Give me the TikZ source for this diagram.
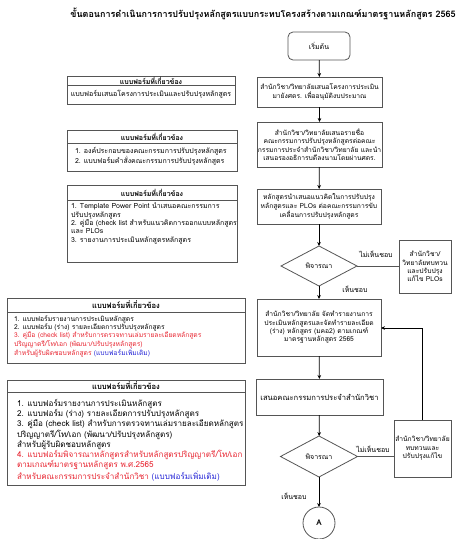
\documentclass[tikz,border=0pt]{standalone}
\usepackage{fontspec}
\setmainfont[Script=Thai]{Loma}
\usetikzlibrary{shapes.geometric,arrows.meta,calc}
\definecolor{lncol}{RGB}{85,85,85}
\definecolor{thred}{RGB}{232,36,48}
\definecolor{thblue}{RGB}{40,40,215}
\tikzset{
  every node/.style={inner sep=0pt, outer sep=0pt},
  flowbox/.style={draw=lncol, line width=0.8pt, rectangle, align=center, font=\fontsize{6.7}{8.4}\selectfont},
  startbox/.style={draw=lncol, line width=0.8pt, rounded corners=5pt, align=center, font=\fontsize{7}{8.4}\selectfont},
  decision/.style={draw=lncol, line width=0.8pt, diamond, aspect=1.9, align=center, font=\fontsize{7}{8.4}\selectfont},
  lbox/.style={draw=lncol, line width=0.8pt, rectangle},
  lhead/.style={font=\bfseries\fontsize{7}{8.4}\selectfont},
  lbody/.style={align=left, anchor=north west, font=\fontsize{7}{8.4}\selectfont},
  lbodybig/.style={align=left, anchor=north west, font=\fontsize{8.1}{10.3}\selectfont},
  edgelabel/.style={font=\fontsize{7}{8.4}\selectfont},
  arr/.style={draw=black, line width=0.7pt, -{Stealth[length=4pt,width=3.6pt]}},
  ln/.style={draw=lncol, line width=0.8pt}
}
\begin{document}
\begin{tikzpicture}[x=1pt,y=-1pt]
\fill[white] (0,0) rectangle (474,539);
\useasboundingbox (0,0) rectangle (474,539);

% title
\node[font=\bfseries\fontsize{9}{11}\selectfont] (title) at (263,14) {ขั้นตอนการดำเนินการการปรับปรุงหลักสูตรแบบกระทบโครงสร้างตามเกณฑ์มาตรฐานหลักสูตร 2565};

% main flow
\node[startbox, minimum width=62, minimum height=28] (start) at (319,46) {เริ่มต้น};
\node[flowbox, minimum width=125, minimum height=30] (b1) at (319.5,92) {สำนักวิชา/วิทยาลัยเสนอโครงการประเมิน\\มายังศตร. เพื่ออนุมัติงบประมาณ};
\node[flowbox, minimum width=125, minimum height=45] (b2) at (319.5,144.5) {สำนักวิชา/วิทยาลัยเสนอรายชื่อ\\คณะกรรมการปรับปรุงหลักสูตรต่อคณะ\\กรรมการประจำสำนักวิชา/วิทยาลัย และนำ\\เสนอรองอธิการบดีลงนามโดยผ่านศตร.};
\node[flowbox, minimum width=124, minimum height=35] (b3) at (319,206.5) {หลักสูตรนำเสนอแนวคิดในการปรับปรุง\\หลักสูตรและ PLOs ต่อคณะกรรมการขับ\\เคลื่อนการปรับปรุงหลักสูตร};
\node[decision, minimum width=76, minimum height=40] (d1) at (319,266) {พิจารณา};
\node[flowbox, minimum width=52, minimum height=53] (r1) at (425,266.5) {สำนักวิชา/\\วิทยาลัยทบทวน\\และปรับปรุง\\แก้ไข PLOs};
\node[flowbox, minimum width=124, minimum height=57] (b4) at (319,327.5) {สำนักวิชา/วิทยาลัย จัดทำรายงานการ\\ประเมินหลักสูตรและจัดทำรายละเอียด\\(ร่าง) หลักสูตร (มคอ2) ตามเกณฑ์\\มาตรฐานหลักสูตร 2565};
\node[flowbox, minimum width=127, minimum height=36, font=\fontsize{7.6}{9}\selectfont] (b5) at (319.5,397) {เสนอคณะกรรมการประจำสำนักวิชา};
\node[decision, minimum width=77, minimum height=41] (d2) at (319,456.5) {พิจารณา};
\node[flowbox, minimum width=57, minimum height=57] (r2) at (422.5,448.5) {สำนักวิชา/วิทยาลัย\\ทบทวนและ\\ปรับปรุงแก้ไข};
\node[draw=lncol, line width=0.8pt, circle, minimum size=32, font=\bfseries\fontsize{8}{9}\selectfont] (a) at (319,523) {A};

\draw[arr] (start) -- (b1);
\draw[arr] (b1) -- (b2);
\draw[arr] (b2) -- (b3);
\draw[arr] (b3) -- (d1);
\draw[arr] (d1) -- (b4);
\draw[ln] (d1.east) -- (d1.east -| r1.west);
\draw[arr] (b4) -- (b5);
\draw[arr] (b5) -- (d2);
\draw[ln] (d2.east) -- (d2.east -| r2.west);
\draw[arr] (d2) -- (a);
\coordinate (b4in) at ($(b4.east)+(0,0.5)$);
\draw[arr] (r2.north) -- (r2.north |- b4in) -- (b4in);

\node[edgelabel] (l1) at (376,254) {ไม่เห็นชอบ};
\node[edgelabel] (l2) at (355,289) {เห็นชอบ};
\node[edgelabel] (l3) at (373,449) {ไม่เห็นชอบ};
\node[edgelabel] (l4) at (294,496) {เห็นชอบ};

% left boxes
% LB1
\node[lbox, minimum width=168, minimum height=28] (lb1) at (151,90) {};
\coordinate (lb1h) at ($(lb1.north west)+(0,9)$);
\draw[ln] (lb1h) -- (lb1h -| lb1.east);
\node[lhead] (lb1t) at ($(lb1.north)+(0,4.5)$) {แบบฟอร์มที่เกี่ยวข้อง};
\node[font=\fontsize{7}{8.4}\selectfont] (lb1b) at ($(lb1.south)+(0,-9.5)$) {แบบฟอร์มเสนอโครงการประเมินและปรับปรุงหลักสูตร};

% LB2
\node[lbox, minimum width=170, minimum height=41] (lb2) at (152,150.5) {};
\coordinate (lb2h) at ($(lb2.north west)+(0,13)$);
\draw[ln] (lb2h) -- (lb2h -| lb2.east);
\node[lhead] (lb2t) at ($(lb2.north)+(0,6.5)$) {แบบฟอร์มที่เกี่ยวข้อง};
\node[lbody] (lb2b) at ($(lb2h)+(8,4.5)$) {1. องค์ประกอบของคณะกรรมการปรับปรุงหลักสูตร\\2. แบบฟอร์มคำสั่งคณะกรรมการปรับปรุงหลักสูตร};

% LB3
\node[lbox, minimum width=170, minimum height=77] (lb3) at (152,223.5) {};
\coordinate (lb3h) at ($(lb3.north west)+(0,15)$);
\draw[ln] (lb3h) -- (lb3h -| lb3.east);
\node[lhead] (lb3t) at ($(lb3.north)+(0,7.5)$) {แบบฟอร์มที่เกี่ยวข้อง};
\node[lbody] (lb3b) at ($(lb3h)+(4,3)$) {1. Template Power Point นำเสนอคณะกรรมการ\\ปรับปรุงหลักสูตร\\2. คู่มือ (check list สำหรับแนวคิดการออกแบบหลักสูตร\\และ PLOs\\3. รายงานการประเมินหลักสูตรหลักสูตร};

% LB4
\node[lbox, minimum width=238, minimum height=65] (lb4) at (126,330.5) {};
\coordinate (lb4h) at ($(lb4.north west)+(0,14)$);
\draw[ln] (lb4h) -- (lb4h -| lb4.east);
\node[lhead, font=\bfseries\fontsize{7.6}{9}\selectfont] (lb4t) at ($(lb4.north)+(0,7)$) {แบบฟอร์มที่เกี่ยวข้อง};
\node[lbody, font=\fontsize{6.7}{7.7}\selectfont] (lb4b) at ($(lb4h)+(7,4)$) {1. แบบฟอร์มรายงานการประเมินหลักสูตร\\2. แบบฟอร์ม (ร่าง) รายละเอียดการปรับปรุงหลักสูตร\\\textcolor{thred}{3. คู่มือ (check list) สำหรับการตรวจทานเล่มรายละเอียดหลักสูตร}\\\textcolor{thred}{ปริญญาตรี/โท/เอก (พัฒนา/ปรับปรุงหลักสูตร)}\\\textcolor{thred}{สำหรับผู้รับผิดชอบหลักสูตร} \textcolor{thblue}{(แบบฟอร์มเพิ่มเติม)}};

% LB5
\node[lbox, minimum width=238, minimum height=105] (lb5) at (126,432.5) {};
\coordinate (lb5h) at ($(lb5.north west)+(0,12)$);
\draw[ln] (lb5h) -- (lb5h -| lb5.east);
\node[lhead, font=\bfseries\fontsize{7.6}{9}\selectfont] (lb5t) at ($(lb5.north)+(0,6)$) {แบบฟอร์มที่เกี่ยวข้อง};
\node[lbodybig] (lb5b) at ($(lb5h)+(10,7)$) {1. แบบฟอร์มรายงานการประเมินหลักสูตร\\2. แบบฟอร์ม (ร่าง) รายละเอียดการปรับปรุงหลักสูตร\\3. คู่มือ (check list) สำหรับการตรวจทานเล่มรายละเอียดหลักสูตร\\ปริญญาตรี/โท/เอก (พัฒนา/ปรับปรุงหลักสูตร)\\สำหรับผู้รับผิดชอบหลักสูตร\\\textcolor{thred}{4. แบบฟอร์มพิจารณาหลักสูตรสำหรับหลักสูตรปริญญาตรี/โท/เอก}\\\textcolor{thred}{ตามเกณฑ์มาตรฐานหลักสูตร พ.ศ.2565}\\\textcolor{thred}{สำหรับคณะกรรมการประจำสำนักวิชา} \textcolor{thblue}{(แบบฟอร์มเพิ่มเติม)}};
\end{tikzpicture}
\end{document}
